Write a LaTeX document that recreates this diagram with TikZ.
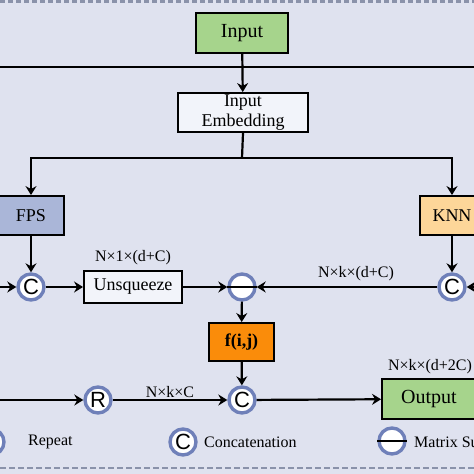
\documentclass[tikz,border=0pt]{standalone}
\usepackage{fontspec}
\setmainfont{Liberation Serif}
\newfontfamily\sansf{Liberation Sans}
\usetikzlibrary{arrows.meta}
\definecolor{bg}{RGB}{223,226,239}
\definecolor{ingreen}{RGB}{166,212,140}
\definecolor{paleblue}{RGB}{242,244,250}
\definecolor{fpsblue}{RGB}{170,182,216}
\definecolor{knnorange}{RGB}{253,214,153}
\definecolor{forange}{RGB}{250,140,10}
\definecolor{circblue}{RGB}{111,128,185}
\definecolor{dashcol}{RGB}{138,146,170}
\tikzset{
  box/.style={draw, line width=1.9pt, inner sep=0pt, font=\fontsize{18}{20}\selectfont, align=center},
  circ/.style={circle, draw=circblue, line width=3.4pt, fill=white, minimum size=26pt, inner sep=0pt, font=\sansf\fontsize{22}{22}\selectfont},
  arr/.style={line width=2.2pt, -{Stealth[length=9pt,width=11pt,inset=3pt]}},
  ln/.style={line width=2.2pt},
  lab/.style={font=\fontsize{16}{16}\selectfont, inner sep=0pt},
  leg/.style={font=\fontsize{16}{16}\selectfont, inner sep=0pt, anchor=west}
}
\begin{document}
\begin{tikzpicture}[x=1pt,y=-1pt]
\useasboundingbox (0,0) rectangle (474,474);
\clip (0,0) rectangle (474,474);
\fill[bg] (0,0) rectangle (474,474);
% dashed frame lines
\coordinate (tl) at (0,1.5); \coordinate (tr) at (474,1.5);
\coordinate (bl) at (0,468); \coordinate (br) at (474,468);
\draw[dashcol, line width=3pt, dash pattern=on 5pt off 3pt] (tl) -- (tr);
\draw[dashcol, line width=1.4pt, dash pattern=on 6pt off 3pt] (bl) -- (br);
% horizontal line
\coordinate (hl) at (0,67); \coordinate (hr) at (474,67);
\draw[ln] (hl) -- (hr);
% boxes
\node[box, fill=ingreen, minimum width=92pt, minimum height=40pt, font=\fontsize{20}{22}\selectfont] (inp) at (242,33) {Input};
\node[box, fill=paleblue, minimum width=130pt, minimum height=39pt] (emb) at (243,112.5) {Input\\Embedding};
\node[box, fill=fpsblue, minimum width=66pt, minimum height=39pt] (fps) at (31,215.5) {FPS};
\node[box, fill=knnorange, minimum width=64pt, minimum height=39pt] (knn) at (452,215.5) {KNN};
\node[box, fill=paleblue, minimum width=98pt, minimum height=32pt] (uns) at (133,287) {Unsqueeze};
\node[box, fill=forange, minimum width=65pt, minimum height=38pt, font=\bfseries\fontsize{18}{20}\selectfont] (fij) at (241.5,342) {f(i,j)};
\node[box, fill=ingreen, minimum width=94pt, minimum height=40pt, font=\fontsize{20}{22}\selectfont] (out) at (429,399) {Output};
% circles
\node[circ] (c1) at (31,287) {C};
\node[circ] (sub) at (242,287) {};
\node[circ] (c2) at (452,287) {C};
\node[circ] (rr) at (98,400) {R};
\node[circ] (c3) at (242,400) {C};
\draw[line width=1.3pt] (sub.west) -- (sub.east);
% free ends
\coordinate (split) at (242,158);
\coordinate (l1) at (0,287);
\coordinate (r1) at (474,287);
\coordinate (l2) at (0,400);
% connectors
\draw[arr] (inp) -- (emb);
\draw[ln] (emb.south) -- (split);
\draw[arr] (split) -| (fps.north);
\draw[arr] (split) -| (knn.north);
\draw[arr] (fps) -- (c1);
\draw[arr] (knn) -- (c2);
\draw[arr] (l1) -- (c1);
\draw[arr] (c1) -- (uns);
\draw[arr] (uns) -- (sub);
\draw[arr] (c2) -- (sub);
\draw[arr] (r1) -- (c2);
\draw[arr] (sub) -- (fij);
\draw[arr] (fij) -- (c3);
\draw[arr] (l2) -- (rr);
\draw[arr] (rr) -- (c3);
\draw[arr] (c3) -- (out);
% labels
\node[lab] (la) at (133,258) {N×1×(d+C)};
\node[lab] (lb) at (356,274) {N×k×(d+C)};
\node[lab] (lc) at (170,392) {N×k×C};
\node[lab] (ld) at (430,367) {N×k×(d+2C)};
% legend
\node[circ] (gr) at (-9,442) {R};
\node[leg] (gtr) at (28,442) {Repeat};
\node[circ] (gc) at (183,442) {C};
\node[leg] (gtc) at (204,442) {Concatenation};
\node[circ] (gs) at (392,441) {};
\draw[line width=1.8pt] (gs.west) -- (gs.east);
\node[leg] (gts) at (414,442) {Matrix Subtraction};
\end{tikzpicture}
\end{document}
